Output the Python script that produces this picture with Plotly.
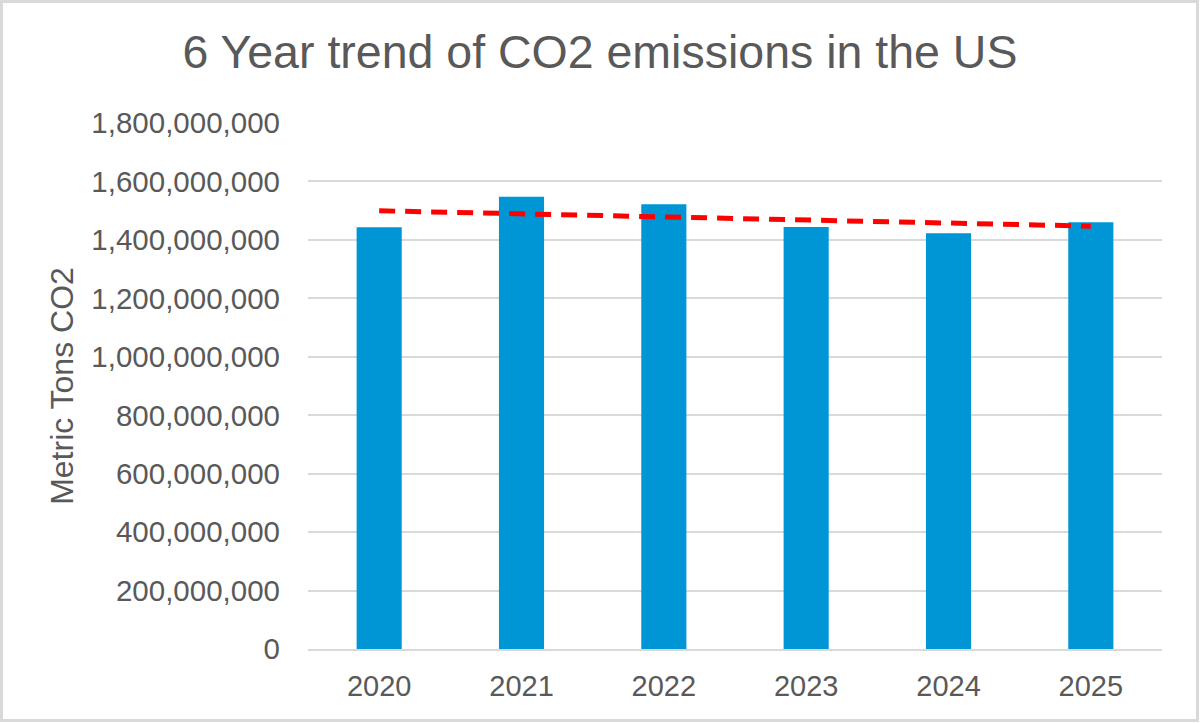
import numpy as np
import plotly.graph_objects as go

years = ["2020", "2021", "2022", "2023", "2024", "2025"]
emissions = [1443000000, 1548000000, 1522000000, 1444000000, 1423000000, 1460000000]
y_ticks = [0, 200000000, 400000000, 600000000, 800000000, 1000000000,
           1200000000, 1400000000, 1600000000, 1800000000]

# linear trendline (least squares) computed from the data
xi = np.arange(len(years))
slope, intercept = np.polyfit(xi, np.array(emissions, dtype=float), 1)
trend = list(slope * xi + intercept)

W, H = 1200, 723
L, R, T, B = 308, 38, 123, 74
pw, ph = W - L - R, H - T - B

def px(x):
    return (x - L) / pw

def py(y):
    return (H - B - y) / ph

fig = go.Figure()
fig.add_trace(go.Bar(
    x=years, y=emissions, marker=dict(color="#0096D6", line=dict(width=0)),
    width=0.317, showlegend=False, hoverinfo="x+y"))
fig.add_trace(go.Scatter(
    x=years, y=trend, mode="lines",
    line=dict(color="#FF0000", width=5, dash="16px,10px"),
    showlegend=False))

font_color = "#595959"
fig.update_layout(
    width=W, height=H,
    margin=dict(l=L, r=R, t=T, b=B),
    paper_bgcolor="white", plot_bgcolor="white",
    font=dict(family="Liberation Sans, Arial, sans-serif", color=font_color, size=29),
    title=dict(text="6 Year trend of CO2 emissions in the US",
               x=0.5, xanchor="center", xref="container",
               y=1 - 52 / H, yanchor="middle", yref="container",
               font=dict(size=46.5, color=font_color)),
    xaxis=dict(type="category", showgrid=False, showline=True,
               linecolor="#D9D9D9", linewidth=2, ticks="",
               ticklabelstandoff=10, tickfont=dict(size=29, color=font_color)),
    yaxis=dict(range=[0, 1800000000], tickvals=y_ticks, tickformat=",d",
               showgrid=True, gridcolor="#D9D9D9", gridwidth=2,
               zeroline=False, showline=False, ticks="",
               ticklabelstandoff=27, tickfont=dict(size=29.5, color=font_color),
               title=dict(text="Metric Tons CO2", standoff=8,
                          font=dict(size=32, color=font_color))),
    shapes=[dict(type="rect", xref="paper", yref="paper",
                 x0=px(1.5), x1=px(W - 2.5), y0=py(1.5), y1=py(H - 2.5),
                 line=dict(color="#D9D9D9", width=3), layer="below")],
)

fig.write_html("out.html")
